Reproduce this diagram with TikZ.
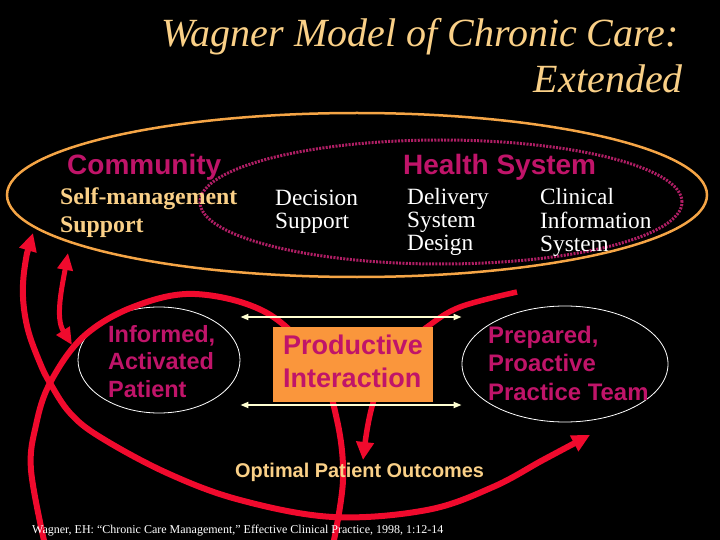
\documentclass[tikz,border=0pt]{standalone}
\usepackage{fontspec}
\setmainfont{Liberation Serif}
\setsansfont{Liberation Sans}
\usetikzlibrary{arrows.meta,shapes.geometric}
\definecolor{tanc}{RGB}{250,208,135}
\definecolor{magc}{RGB}{192,20,105}
\definecolor{boxor}{RGB}{250,150,60}
\definecolor{ellor}{RGB}{245,165,70}
\definecolor{dotmag}{RGB}{175,30,100}
\definecolor{cream}{RGB}{255,255,210}
\definecolor{arrred}{RGB}{240,10,45}
\newcommand\tstack[2][l]{\begin{tabular}[t]{@{}#1@{}}#2\end{tabular}}
\begin{document}
\begin{tikzpicture}[x=1pt,y=-1pt,
  txt/.style={inner sep=0pt, anchor=base west},
  headtxt/.style={txt, text=magc, font=\fontsize{28}{30}\selectfont\sffamily\bfseries},
  comptxt/.style={txt, text=white, font=\fontsize{23.3}{23}\selectfont},
  roletxt/.style={txt, text=magc},
  redline/.style={draw=arrred, line width=6pt},
  redtip/.style={-{Triangle[length=18pt,width=17pt]}},
  wline/.style={draw=cream, line width=1.8pt, {Triangle[length=8pt,width=6pt]}-{Triangle[length=8pt,width=6pt]}},
  whiteell/.style={ellipse, draw=white, line width=0.8pt, inner sep=0pt}
]
\fill[black] (0,0) rectangle (720,540);
\useasboundingbox (0,0) rectangle (720,540);

% title
\node[inner sep=0pt, anchor=base east, text=tanc, font=\fontsize{40}{46}\selectfont\itshape] (title) at (683,47)
  {\tstack[r]{Wagner Model of Chronic Care:\hspace*{4pt}\\Extended}};

% big ellipses
\node[ellipse, draw=ellor, line width=2.5pt, minimum width=700pt, minimum height=164pt, inner sep=0pt] (commell) at (357,195) {};
\node[ellipse, draw=dotmag, line width=3pt, dash pattern=on 2pt off 1.3pt, minimum width=482pt, minimum height=124pt, inner sep=0pt] (healthell) at (441,202) {};

% patient / team ellipses
\node[whiteell, minimum width=162pt, minimum height=106pt] (patient) at (159,360) {};
\node[whiteell, minimum width=206pt, minimum height=116pt] (team) at (565,364) {};

% red curves
\draw[redline] plot[smooth, tension=0.6] coordinates {(45,545) (31,470) (36,425) (50,383) (83,337) (133,307) (195,294) (267,313) (317,363) (337,420) (343,480) (333,545)};
\draw[redline, {Triangle[length=18pt,width=17pt]}-{Triangle[length=18pt,width=17pt]}] plot[smooth, tension=0.6] coordinates {(33,233) (25,265) (23,297) (28,330) (40,363) (50,383) (70,413) (100,437) (167,473) (240,500) (333,517) (427,510) (493,487) (543,460) (590,435)};
\coordinate (c3s) at (517,292);
\coordinate (c3e) at (363,460);
\draw[redline, line width=5.5pt, redtip] plot[smooth, tension=0.6] coordinates {(c3s) (460,307) (427,327) (400,350) (383,375) (373,403) (367,430) (c3e)};
\coordinate (c4s) at (68,253);
\coordinate (c4e) at (72,345);
\draw[redline, line width=5pt, {Triangle[length=17pt,width=15pt]}-{Triangle[length=17pt,width=15pt]}] (c4s) .. controls (62,287) and (55,318) .. (c4e);

% productive interaction box
\node[fill=boxor, minimum width=160pt, minimum height=75pt, inner sep=0pt, text=magc,
      font=\fontsize{27}{33}\selectfont\sffamily\bfseries] (prod) at (353,364.5) {\tstack{Productive\\Interaction}};

% interaction arrows
\draw[wline] ([yshift=43pt]patient.east) -- ([yshift=43pt]patient.east -| team.west);
\draw[wline] ([yshift=-45pt]patient.east) -- ([yshift=-45pt]patient.east -| team.west);

% texts
\node[headtxt] (community) at (67,175) {Community};
\node[headtxt] (health) at (403,175) {Health System};
\node[txt, text=tanc, font=\fontsize{23.8}{28}\selectfont\bfseries] (selfm) at (60,205) {\tstack{Self-management\\Support}};
\node[comptxt] (decision) at (275,206) {\tstack{Decision\\Support}};
\node[comptxt] (delivery) at (407,205) {\tstack{Delivery\\System\\Design}};
\node[comptxt] (clinical) at (540,205) {\tstack{Clinical\\Information\\System}};
\node[roletxt, font=\fontsize{23.5}{27.5}\selectfont\sffamily\bfseries] (informed) at (108,342) {\tstack{Informed,\\Activated\\Patient}};
\node[roletxt, font=\fontsize{23.9}{28.5}\selectfont\sffamily\bfseries] (prepared) at (488,343) {\tstack{Prepared,\\Proactive\\Practice Team}};
\node[txt, text=tanc, font=\fontsize{19.9}{22}\selectfont\sffamily\bfseries] (outcomes) at (235,477) {Optimal Patient Outcomes};
\node[txt, text=white, font=\fontsize{12}{14}\selectfont] (footer) at (32,533) {Wagner, EH: “Chronic Care Management,” Effective Clinical Practice, 1998, 1:12-14};
\end{tikzpicture}
\end{document}
